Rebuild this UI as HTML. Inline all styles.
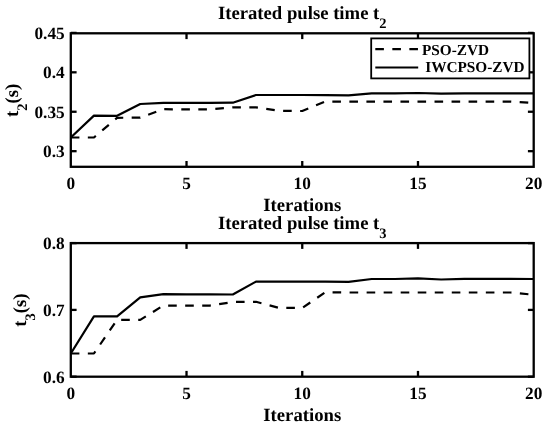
<!DOCTYPE html>
<html><head><meta charset="utf-8"><title>Iterated pulse time</title>
<style>
html,body{margin:0;padding:0;background:#fff;width:550px;height:430px;overflow:hidden}
svg{display:block}
text{text-rendering:geometricPrecision;font-family:"Liberation Serif","Times New Roman",serif;font-weight:bold;fill:#000}
.tk{font-size:17.3px}
.tl{font-size:18.7px}
.sb{font-size:14.5px}
.lg{font-size:15.3px}
</style></head><body>
<svg width="550" height="430" viewBox="0 0 550 430">
<rect width="550" height="430" fill="#fff"/>
<polyline points="70.80,137.50 93.94,137.50 117.09,117.80 140.24,117.60 163.38,109.20 186.52,109.40 209.67,109.40 232.81,107.40 255.96,107.40 279.11,110.80 302.25,111.00 325.39,101.50 348.54,101.60 371.69,101.60 394.83,101.60 417.98,101.60 441.12,101.60 464.26,101.60 487.41,101.60 510.56,101.60 533.70,103.00" fill="none" stroke="#000" stroke-width="2.2" stroke-dasharray="8.6 8.43" stroke-linejoin="round"/>
<polyline points="70.80,137.50 93.94,115.60 117.09,115.80 140.24,104.00 163.38,102.80 186.52,102.80 209.67,102.80 232.81,102.70 255.96,95.00 279.11,95.00 302.25,95.00 325.39,95.10 348.54,95.30 371.69,93.30 394.83,93.30 417.98,93.00 441.12,93.60 464.26,93.40 487.41,93.40 510.56,93.40 533.70,93.40" fill="none" stroke="#000" stroke-width="2.2" stroke-linejoin="round"/>
<rect x="70.80" y="33.30" width="462.90" height="133.50" fill="none" stroke="#000" stroke-width="2.3"/>
<line x1="186.52" y1="166.80" x2="186.52" y2="161.00" stroke="#000" stroke-width="2.3"/>
<line x1="186.52" y1="33.30" x2="186.52" y2="39.10" stroke="#000" stroke-width="2.3"/>
<line x1="302.25" y1="166.80" x2="302.25" y2="161.00" stroke="#000" stroke-width="2.3"/>
<line x1="302.25" y1="33.30" x2="302.25" y2="39.10" stroke="#000" stroke-width="2.3"/>
<line x1="417.98" y1="166.80" x2="417.98" y2="161.00" stroke="#000" stroke-width="2.3"/>
<line x1="417.98" y1="33.30" x2="417.98" y2="39.10" stroke="#000" stroke-width="2.3"/>
<line x1="70.80" y1="32.90" x2="76.60" y2="32.90" stroke="#000" stroke-width="2.3"/>
<line x1="533.70" y1="32.90" x2="527.90" y2="32.90" stroke="#000" stroke-width="2.3"/>
<line x1="70.80" y1="72.32" x2="76.60" y2="72.32" stroke="#000" stroke-width="2.3"/>
<line x1="533.70" y1="72.32" x2="527.90" y2="72.32" stroke="#000" stroke-width="2.3"/>
<line x1="70.80" y1="111.75" x2="76.60" y2="111.75" stroke="#000" stroke-width="2.3"/>
<line x1="533.70" y1="111.75" x2="527.90" y2="111.75" stroke="#000" stroke-width="2.3"/>
<line x1="70.80" y1="151.18" x2="76.60" y2="151.18" stroke="#000" stroke-width="2.3"/>
<line x1="533.70" y1="151.18" x2="527.90" y2="151.18" stroke="#000" stroke-width="2.3"/>
<text x="64.7" y="39.00" class="tk" text-anchor="end">0.45</text>
<text x="64.7" y="78.42" class="tk" text-anchor="end">0.4</text>
<text x="64.7" y="117.85" class="tk" text-anchor="end">0.35</text>
<text x="64.7" y="157.28" class="tk" text-anchor="end">0.3</text>
<text x="70.80" y="188.60" class="tk" text-anchor="middle">0</text>
<text x="186.52" y="188.60" class="tk" text-anchor="middle">5</text>
<text x="302.25" y="188.60" class="tk" text-anchor="middle">10</text>
<text x="417.98" y="188.60" class="tk" text-anchor="middle">15</text>
<text x="533.70" y="188.60" class="tk" text-anchor="middle">20</text>
<text x="302.25" y="19.20" class="tl" text-anchor="middle">Iterated pulse time t<tspan class="sb" dy="9">2</tspan></text>
<text x="302.25" y="211.10" class="tl" text-anchor="middle">Iterations</text>
<text transform="translate(18.20,100.35) rotate(-90)" class="tl" text-anchor="middle">t<tspan class="sb" dy="9">2</tspan><tspan dy="-9">(s)</tspan></text>

<rect x="371.2" y="38.4" width="158.2" height="40" fill="#fff" stroke="#000" stroke-width="1.8"/>
<line x1="375.3" y1="49.2" x2="418.2" y2="49.2" stroke="#000" stroke-width="2.2" stroke-dasharray="8.6 8.43"/>
<line x1="375.3" y1="67.5" x2="418.2" y2="67.5" stroke="#000" stroke-width="2.2"/>
<text x="422" y="54.6" class="lg">PSO-ZVD</text>
<text x="425.2" y="72.1" class="lg">IWCPSO-ZVD</text>

<polyline points="70.80,353.50 93.94,353.50 117.09,319.80 140.24,319.90 163.38,305.50 186.52,305.70 209.67,305.60 232.81,302.00 255.96,301.80 279.11,307.90 302.25,307.90 325.39,292.20 348.54,292.50 371.69,292.50 394.83,292.50 417.98,292.50 441.12,292.50 464.26,292.50 487.41,292.50 510.56,292.50 533.70,294.80" fill="none" stroke="#000" stroke-width="2.2" stroke-dasharray="8.6 8.43" stroke-linejoin="round"/>
<polyline points="70.80,353.50 93.94,316.40 117.09,316.40 140.24,297.30 163.38,294.20 186.52,294.30 209.67,294.40 232.81,294.50 255.96,281.60 279.11,281.60 302.25,281.60 325.39,281.60 348.54,281.90 371.69,279.00 394.83,279.00 417.98,278.30 441.12,279.50 464.26,278.80 487.41,278.80 510.56,278.80 533.70,279.00" fill="none" stroke="#000" stroke-width="2.2" stroke-linejoin="round"/>
<rect x="70.80" y="243.10" width="462.90" height="133.60" fill="none" stroke="#000" stroke-width="2.3"/>
<line x1="186.52" y1="376.70" x2="186.52" y2="370.90" stroke="#000" stroke-width="2.3"/>
<line x1="186.52" y1="243.10" x2="186.52" y2="248.90" stroke="#000" stroke-width="2.3"/>
<line x1="302.25" y1="376.70" x2="302.25" y2="370.90" stroke="#000" stroke-width="2.3"/>
<line x1="302.25" y1="243.10" x2="302.25" y2="248.90" stroke="#000" stroke-width="2.3"/>
<line x1="417.98" y1="376.70" x2="417.98" y2="370.90" stroke="#000" stroke-width="2.3"/>
<line x1="417.98" y1="243.10" x2="417.98" y2="248.90" stroke="#000" stroke-width="2.3"/>
<line x1="70.80" y1="376.70" x2="76.60" y2="376.70" stroke="#000" stroke-width="2.3"/>
<line x1="533.70" y1="376.70" x2="527.90" y2="376.70" stroke="#000" stroke-width="2.3"/>
<line x1="70.80" y1="309.90" x2="76.60" y2="309.90" stroke="#000" stroke-width="2.3"/>
<line x1="533.70" y1="309.90" x2="527.90" y2="309.90" stroke="#000" stroke-width="2.3"/>
<line x1="70.80" y1="243.10" x2="76.60" y2="243.10" stroke="#000" stroke-width="2.3"/>
<line x1="533.70" y1="243.10" x2="527.90" y2="243.10" stroke="#000" stroke-width="2.3"/>
<text x="64.7" y="382.80" class="tk" text-anchor="end">0.6</text>
<text x="64.7" y="316.00" class="tk" text-anchor="end">0.7</text>
<text x="64.7" y="249.20" class="tk" text-anchor="end">0.8</text>
<text x="70.80" y="398.50" class="tk" text-anchor="middle">0</text>
<text x="186.52" y="398.50" class="tk" text-anchor="middle">5</text>
<text x="302.25" y="398.50" class="tk" text-anchor="middle">10</text>
<text x="417.98" y="398.50" class="tk" text-anchor="middle">15</text>
<text x="533.70" y="398.50" class="tk" text-anchor="middle">20</text>
<text x="302.25" y="229.00" class="tl" text-anchor="middle">Iterated pulse time t<tspan class="sb" dy="9">3</tspan></text>
<text x="302.25" y="421.00" class="tl" text-anchor="middle">Iterations</text>
<text transform="translate(26.30,310.20) rotate(-90)" class="tl" text-anchor="middle">t<tspan class="sb" dy="9">3</tspan><tspan dy="-9">(s)</tspan></text>
</svg>
</body></html>
